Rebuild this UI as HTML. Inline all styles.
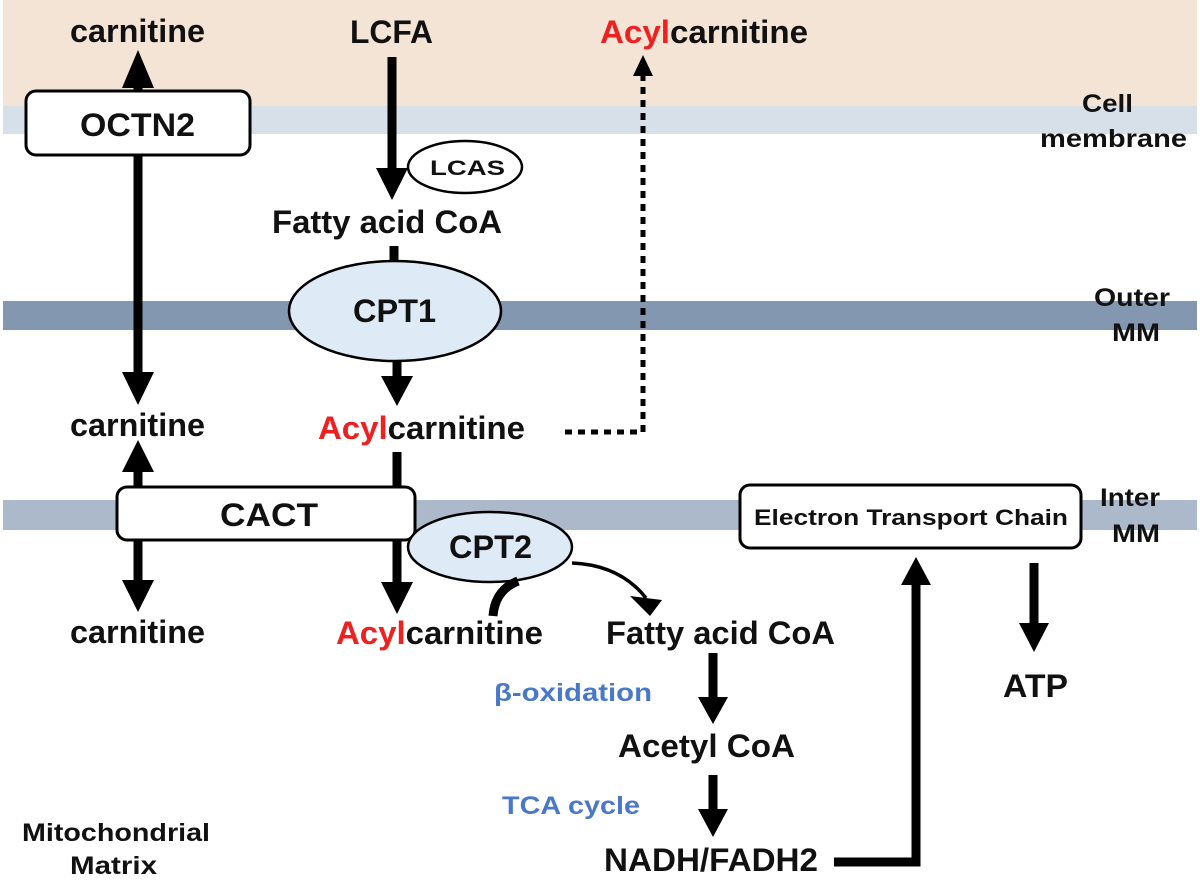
<!DOCTYPE html>
<html><head><meta charset="utf-8"><style>
html,body{margin:0;padding:0;background:#fff;}
svg{display:block;}
text{font-family:"Liberation Sans",Arial,sans-serif;font-weight:bold;fill:#111;}
</style></head><body>
<svg width="1200" height="881" viewBox="0 0 1200 881" xmlns="http://www.w3.org/2000/svg">
<rect x="3" y="0" width="1194" height="107" fill="#f4e4d5"/>
<rect x="3" y="106" width="1194" height="28" fill="#d7dfe8"/>
<rect x="3" y="301" width="1194" height="29" fill="#8398b0"/>
<rect x="3" y="500" width="1194" height="30" fill="#acb9cb"/>

<line x1="138" y1="88" x2="138" y2="380" stroke="#000" stroke-width="9"/>
<polygon points="122,88 154,88 138,50" fill="#000"/>
<polygon points="122,372 154,372 138,405" fill="#000"/>
<rect x="26" y="91" width="224" height="64" rx="10" fill="#fff" stroke="#000" stroke-width="3"/>
<text x="80" y="136" font-size="32" textLength="115" lengthAdjust="spacingAndGlyphs">OCTN2</text>
<text x="70" y="42" font-size="32" textLength="135" lengthAdjust="spacingAndGlyphs">carnitine</text>
<text x="70" y="436" font-size="32" textLength="135" lengthAdjust="spacingAndGlyphs">carnitine</text>
<line x1="138" y1="470" x2="138" y2="490" stroke="#000" stroke-width="9"/>
<polygon points="122,472 154,472 138,440" fill="#000"/>
<line x1="138" y1="540" x2="138" y2="585" stroke="#000" stroke-width="9"/>
<polygon points="122,580 154,580 138,612" fill="#000"/>
<text x="70" y="643" font-size="32" textLength="135" lengthAdjust="spacingAndGlyphs">carnitine</text>

<text x="350" y="43" font-size="32" textLength="83" lengthAdjust="spacingAndGlyphs">LCFA</text>
<line x1="392" y1="57" x2="392" y2="170" stroke="#000" stroke-width="9"/>
<polygon points="376,168 408,168 392,200" fill="#000"/>
<ellipse cx="465" cy="167" rx="57" ry="26" fill="#fff" stroke="#000" stroke-width="2.5"/>
<text x="430" y="175" font-size="21" textLength="75" lengthAdjust="spacingAndGlyphs">LCAS</text>
<text x="272" y="233" font-size="32" textLength="230" lengthAdjust="spacingAndGlyphs">Fatty acid CoA</text>
<line x1="394" y1="246" x2="394" y2="272" stroke="#000" stroke-width="9"/>
<ellipse cx="395" cy="311" rx="106" ry="50" fill="#deeaf5" stroke="#000" stroke-width="2.5"/>
<text x="353" y="322" font-size="32" textLength="83" lengthAdjust="spacingAndGlyphs">CPT1</text>
<line x1="397" y1="362" x2="397" y2="380" stroke="#000" stroke-width="9"/>
<polygon points="381,376 413,376 397,406" fill="#000"/>
<text x="318" y="439" font-size="32" textLength="207" lengthAdjust="spacingAndGlyphs"><tspan fill="#ee2020">Acyl</tspan>carnitine</text>
<line x1="397" y1="452" x2="397" y2="490" stroke="#000" stroke-width="9"/>
<line x1="397" y1="540" x2="397" y2="585" stroke="#000" stroke-width="9"/>
<polygon points="381,582 413,582 397,614" fill="#000"/>
<rect x="117" y="487" width="298" height="53" rx="10" fill="#fff" stroke="#000" stroke-width="3"/>
<text x="220" y="526" font-size="32" textLength="98" lengthAdjust="spacingAndGlyphs">CACT</text>
<ellipse cx="490" cy="547" rx="82" ry="35" fill="#deeaf5" stroke="#000" stroke-width="2.5"/>
<text x="449" y="558" font-size="32" textLength="83" lengthAdjust="spacingAndGlyphs">CPT2</text>
<path d="M493,616 Q495,590 518,581" fill="none" stroke="#000" stroke-width="9"/>
<path d="M572,563 Q620,565 646,598" fill="none" stroke="#000" stroke-width="3.5"/>
<polygon points="630,596 662,600 650,616" fill="#000"/>
<text x="336" y="644" font-size="32" textLength="207" lengthAdjust="spacingAndGlyphs"><tspan fill="#ee2020">Acyl</tspan>carnitine</text>

<polyline points="565,432 643,432 643,75" fill="none" stroke="#000" stroke-width="5" stroke-dasharray="7,6"/>
<polygon points="633,76 653,76 643,55" fill="#000"/>
<text x="600" y="43" font-size="32" textLength="208" lengthAdjust="spacingAndGlyphs"><tspan fill="#ee2020">Acyl</tspan>carnitine</text>

<text x="1082" y="112" font-size="25" textLength="51" lengthAdjust="spacingAndGlyphs">Cell</text>
<text x="1040" y="147" font-size="25" textLength="147" lengthAdjust="spacingAndGlyphs">membrane</text>
<text x="1094" y="306" font-size="25" textLength="76" lengthAdjust="spacingAndGlyphs">Outer</text>
<text x="1112" y="341" font-size="25" textLength="48" lengthAdjust="spacingAndGlyphs">MM</text>
<text x="1100" y="506" font-size="25" textLength="60" lengthAdjust="spacingAndGlyphs">Inter</text>
<text x="1112" y="542" font-size="25" textLength="48" lengthAdjust="spacingAndGlyphs">MM</text>

<rect x="740" y="485" width="341" height="63" rx="10" fill="#fff" stroke="#000" stroke-width="3"/>
<text x="754" y="525" font-size="22" textLength="314" lengthAdjust="spacingAndGlyphs">Electron Transport Chain</text>
<line x1="1034" y1="563" x2="1034" y2="625" stroke="#000" stroke-width="9"/>
<polygon points="1019,623 1049,623 1034,652" fill="#000"/>
<text x="1003" y="697" font-size="32" textLength="65" lengthAdjust="spacingAndGlyphs">ATP</text>

<text x="606" y="644" font-size="32" textLength="229" lengthAdjust="spacingAndGlyphs">Fatty acid CoA</text>
<line x1="713" y1="653" x2="713" y2="700" stroke="#000" stroke-width="9"/>
<polygon points="698,697 728,697 713,724" fill="#000"/>
<text x="494" y="701" font-size="25" textLength="158" lengthAdjust="spacingAndGlyphs" style="fill:#4a78c8">β-oxidation</text>
<text x="618" y="757" font-size="32" textLength="177" lengthAdjust="spacingAndGlyphs">Acetyl CoA</text>
<line x1="713" y1="775" x2="713" y2="812" stroke="#000" stroke-width="9"/>
<polygon points="698,809 728,809 713,837" fill="#000"/>
<text x="502" y="814" font-size="25" textLength="138" lengthAdjust="spacingAndGlyphs" style="fill:#4a78c8">TCA cycle</text>
<text x="604" y="871" font-size="32" textLength="214" lengthAdjust="spacingAndGlyphs">NADH/FADH2</text>
<polyline points="834,862 916,862 916,580" fill="none" stroke="#000" stroke-width="9"/>
<polygon points="901,585 931,585 916,557" fill="#000"/>
<text x="22" y="841" font-size="25" textLength="188" lengthAdjust="spacingAndGlyphs">Mitochondrial</text>
<text x="70" y="874" font-size="25" textLength="87" lengthAdjust="spacingAndGlyphs">Matrix</text>
</svg>
</body></html>
